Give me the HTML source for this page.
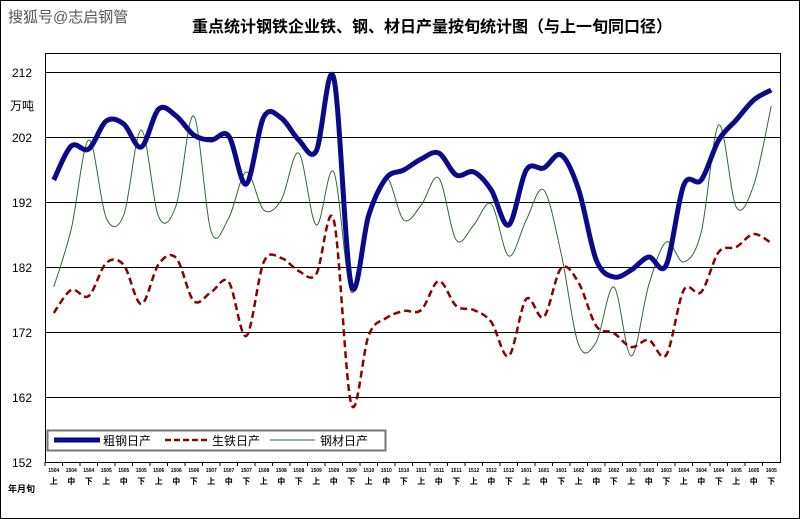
<!DOCTYPE html>
<html><head><meta charset="utf-8"><style>
body{margin:0;background:#fff;}
svg{display:block;font-family:"Liberation Sans","Noto Sans CJK SC",sans-serif;}
</style></head><body>
<svg id="s" width="800" height="519" xmlns="http://www.w3.org/2000/svg">
<rect x="0.5" y="0.5" width="799" height="518" fill="#fff" stroke="#000"/>
<text x="8" y="22" font-size="15" fill="#555">搜狐号@志启钢管</text>
<text x="432" y="32" font-size="16" font-weight="bold" text-anchor="middle">重点统计钢铁企业铁、钢、材日产量按旬统计图（与上一旬同口径）</text>
<rect x="45.5" y="53.5" width="735" height="409" fill="#fff" stroke="#000"/>
<g stroke="#000" stroke-width="1">
<line x1="45" y1="72.5" x2="780" y2="72.5"/><line x1="45" y1="137.5" x2="780" y2="137.5"/>
<line x1="45" y1="202.5" x2="780" y2="202.5"/><line x1="45" y1="267.5" x2="780" y2="267.5"/>
<line x1="45" y1="332.5" x2="780" y2="332.5"/><line x1="45" y1="397.5" x2="780" y2="397.5"/>
</g>
<g font-size="12" text-anchor="middle">
<text x="22" y="77">212</text><text x="22" y="110">万吨</text><text x="22" y="142">202</text>
<text x="22" y="207">192</text><text x="22" y="272">182</text><text x="22" y="337">172</text>
<text x="22" y="402">162</text><text x="22" y="467">152</text>
</g>
<text x="8" y="492" font-size="9" font-weight="bold">年月旬</text>
<g id="ax"></g>
<path id="g" fill="none" stroke="#2e6b2e" stroke-width="1"/>
<path id="r" fill="none" stroke="#8b0000" stroke-width="2.5" stroke-dasharray="7,4"/>
<path id="b" fill="none" stroke="#0a0a8a" stroke-width="5"/>
<rect x="47.5" y="430.5" width="338" height="20" fill="#fff" stroke="#777" stroke-width="2"/>
<line x1="54" y1="440" x2="100" y2="440" stroke="#0a0a8a" stroke-width="5"/>
<text x="103" y="445" font-size="12">粗钢日产</text>
<line x1="165" y1="440" x2="208" y2="440" stroke="#8b0000" stroke-width="2.5" stroke-dasharray="6,3"/>
<text x="212" y="445" font-size="12">生铁日产</text>
<line x1="270" y1="440" x2="315" y2="440" stroke="#2e6b2e" stroke-width="1"/>
<text x="320" y="445" font-size="12">钢材日产</text>
</svg>
<script>
var B=[180,146,149,121,124,147,109,116,135,140,136,184,117,118,140,151,78,285,215,178,170,159,153,175,172,190,225,170,168,155,190,260,277,270,257,265,185,180,140,120,100,90];
var R=[313,290,296,263,265,304,264,258,301,292,282,336,262,258,271,274,220,404,335,318,311,310,281,306,310,322,356,299,317,268,283,326,333,347,340,355,290,292,252,247,234,243];
var G=[287,229,140,218,215,130,217,205,116,232,218,172,210,200,153,225,172,292,222,178,220,205,178,240,225,204,256,220,190,254,345,342,287,356,285,242,262,232,125,207,185,106];
function X(i){return 45+17.5*(i+0.5);}
function path(a){var p=a.map(function(y,i){return [X(i),y]});var d="M"+p[0][0]+","+p[0][1];
for(var i=0;i<p.length-1;i++){var p0=p[i-1]||p[i],p1=p[i],p2=p[i+1],p3=p[i+2]||p2;
d+=" C"+(p1[0]+(p2[0]-p0[0])/6)+","+(p1[1]+(p2[1]-p0[1])/6)+" "+(p2[0]-(p3[0]-p1[0])/6)+","+(p2[1]-(p3[1]-p1[1])/6)+" "+p2[0]+","+p2[1];}return d;}
document.getElementById("b").setAttribute("d",path(B));
document.getElementById("r").setAttribute("d",path(R));
document.getElementById("g").setAttribute("d",path(G));
var s="",xs=["上","中","下"];
for(var i=0;i<42;i++){var m=4+Math.floor(i/3),yy=15+Math.floor((m-1)/12);m=(m-1)%12+1;
var x=X(i);s+='<line x1="'+(45+17.5*i)+'" y1="462" x2="'+(45+17.5*i)+'" y2="466" stroke="#000"/>';
s+='<text x="'+x+'" y="472" font-size="5" font-weight="bold" text-anchor="middle">'+yy+(m<10?"0":"")+m+'</text>';
s+='<text x="'+x+'" y="484" font-size="8" font-weight="bold" text-anchor="middle">'+xs[i%3]+'</text>';}
document.getElementById("ax").innerHTML=s;
</script>
</body></html>
